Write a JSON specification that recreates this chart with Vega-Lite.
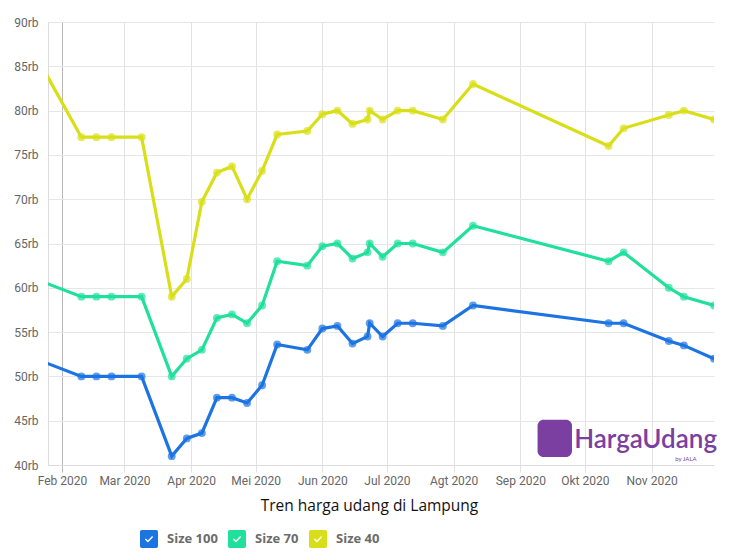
{
  "$schema": "https://vega.github.io/schema/vega-lite/v6.json",
  "autosize": {"type": "none"},
  "width": 666,
  "height": 443,
  "padding": {"left": 48, "top": 22, "right": 25, "bottom": 95},
  "background": "white",
  "config": {"view": {"stroke": null}, "font": "Roboto"},
  "layer": [
    {
      "data": {"values": [
        {"date": "2020-01-13T00:00:00", "size": "Size 100", "price": 52.6},
        {"date": "2020-02-10T00:00:00", "size": "Size 100", "price": 50},
        {"date": "2020-02-17T00:00:00", "size": "Size 100", "price": 50},
        {"date": "2020-02-24T00:00:00", "size": "Size 100", "price": 50},
        {"date": "2020-03-09T00:00:00", "size": "Size 100", "price": 50},
        {"date": "2020-03-23T00:00:00", "size": "Size 100", "price": 41},
        {"date": "2020-03-30T00:00:00", "size": "Size 100", "price": 43},
        {"date": "2020-04-06T00:00:00", "size": "Size 100", "price": 43.6},
        {"date": "2020-04-13T00:00:00", "size": "Size 100", "price": 47.6},
        {"date": "2020-04-20T00:00:00", "size": "Size 100", "price": 47.6},
        {"date": "2020-04-27T00:00:00", "size": "Size 100", "price": 47},
        {"date": "2020-05-04T00:00:00", "size": "Size 100", "price": 49},
        {"date": "2020-05-11T00:00:00", "size": "Size 100", "price": 53.6},
        {"date": "2020-05-25T00:00:00", "size": "Size 100", "price": 53},
        {"date": "2020-06-01T00:00:00", "size": "Size 100", "price": 55.4},
        {"date": "2020-06-08T00:00:00", "size": "Size 100", "price": 55.7},
        {"date": "2020-06-15T00:00:00", "size": "Size 100", "price": 53.7},
        {"date": "2020-06-22T00:00:00", "size": "Size 100", "price": 54.5},
        {"date": "2020-06-23T00:00:00", "size": "Size 100", "price": 56},
        {"date": "2020-06-29T00:00:00", "size": "Size 100", "price": 54.5},
        {"date": "2020-07-06T00:00:00", "size": "Size 100", "price": 56},
        {"date": "2020-07-13T00:00:00", "size": "Size 100", "price": 56},
        {"date": "2020-07-27T00:00:00", "size": "Size 100", "price": 55.7},
        {"date": "2020-08-10T00:00:00", "size": "Size 100", "price": 58},
        {"date": "2020-10-12T00:00:00", "size": "Size 100", "price": 56},
        {"date": "2020-10-19T00:00:00", "size": "Size 100", "price": 56},
        {"date": "2020-11-09T00:00:00", "size": "Size 100", "price": 54},
        {"date": "2020-11-16T00:00:00", "size": "Size 100", "price": 53.5},
        {"date": "2020-11-30T00:00:00", "size": "Size 100", "price": 52},
        {"date": "2020-01-13T00:00:00", "size": "Size 70", "price": 61.6},
        {"date": "2020-02-10T00:00:00", "size": "Size 70", "price": 59},
        {"date": "2020-02-17T00:00:00", "size": "Size 70", "price": 59},
        {"date": "2020-02-24T00:00:00", "size": "Size 70", "price": 59},
        {"date": "2020-03-09T00:00:00", "size": "Size 70", "price": 59},
        {"date": "2020-03-23T00:00:00", "size": "Size 70", "price": 50},
        {"date": "2020-03-30T00:00:00", "size": "Size 70", "price": 52},
        {"date": "2020-04-06T00:00:00", "size": "Size 70", "price": 53},
        {"date": "2020-04-13T00:00:00", "size": "Size 70", "price": 56.6},
        {"date": "2020-04-20T00:00:00", "size": "Size 70", "price": 57},
        {"date": "2020-04-27T00:00:00", "size": "Size 70", "price": 56},
        {"date": "2020-05-04T00:00:00", "size": "Size 70", "price": 58},
        {"date": "2020-05-11T00:00:00", "size": "Size 70", "price": 63},
        {"date": "2020-05-25T00:00:00", "size": "Size 70", "price": 62.5},
        {"date": "2020-06-01T00:00:00", "size": "Size 70", "price": 64.7},
        {"date": "2020-06-08T00:00:00", "size": "Size 70", "price": 65},
        {"date": "2020-06-15T00:00:00", "size": "Size 70", "price": 63.3},
        {"date": "2020-06-22T00:00:00", "size": "Size 70", "price": 64},
        {"date": "2020-06-23T00:00:00", "size": "Size 70", "price": 65},
        {"date": "2020-06-29T00:00:00", "size": "Size 70", "price": 63.5},
        {"date": "2020-07-06T00:00:00", "size": "Size 70", "price": 65},
        {"date": "2020-07-13T00:00:00", "size": "Size 70", "price": 65},
        {"date": "2020-07-27T00:00:00", "size": "Size 70", "price": 64},
        {"date": "2020-08-10T00:00:00", "size": "Size 70", "price": 67},
        {"date": "2020-10-12T00:00:00", "size": "Size 70", "price": 63},
        {"date": "2020-10-19T00:00:00", "size": "Size 70", "price": 64},
        {"date": "2020-11-09T00:00:00", "size": "Size 70", "price": 60},
        {"date": "2020-11-16T00:00:00", "size": "Size 70", "price": 59},
        {"date": "2020-11-30T00:00:00", "size": "Size 70", "price": 58},
        {"date": "2020-01-13T00:00:00", "size": "Size 40", "price": 89.2},
        {"date": "2020-02-10T00:00:00", "size": "Size 40", "price": 77},
        {"date": "2020-02-17T00:00:00", "size": "Size 40", "price": 77},
        {"date": "2020-02-24T00:00:00", "size": "Size 40", "price": 77},
        {"date": "2020-03-09T00:00:00", "size": "Size 40", "price": 77},
        {"date": "2020-03-23T00:00:00", "size": "Size 40", "price": 59},
        {"date": "2020-03-30T00:00:00", "size": "Size 40", "price": 61},
        {"date": "2020-04-06T00:00:00", "size": "Size 40", "price": 69.7},
        {"date": "2020-04-13T00:00:00", "size": "Size 40", "price": 73},
        {"date": "2020-04-20T00:00:00", "size": "Size 40", "price": 73.7},
        {"date": "2020-04-27T00:00:00", "size": "Size 40", "price": 70},
        {"date": "2020-05-04T00:00:00", "size": "Size 40", "price": 73.2},
        {"date": "2020-05-11T00:00:00", "size": "Size 40", "price": 77.3},
        {"date": "2020-05-25T00:00:00", "size": "Size 40", "price": 77.7},
        {"date": "2020-06-01T00:00:00", "size": "Size 40", "price": 79.6},
        {"date": "2020-06-08T00:00:00", "size": "Size 40", "price": 80},
        {"date": "2020-06-15T00:00:00", "size": "Size 40", "price": 78.5},
        {"date": "2020-06-22T00:00:00", "size": "Size 40", "price": 79},
        {"date": "2020-06-23T00:00:00", "size": "Size 40", "price": 80},
        {"date": "2020-06-29T00:00:00", "size": "Size 40", "price": 79},
        {"date": "2020-07-06T00:00:00", "size": "Size 40", "price": 80},
        {"date": "2020-07-13T00:00:00", "size": "Size 40", "price": 80},
        {"date": "2020-07-27T00:00:00", "size": "Size 40", "price": 79},
        {"date": "2020-08-10T00:00:00", "size": "Size 40", "price": 83},
        {"date": "2020-10-12T00:00:00", "size": "Size 40", "price": 76},
        {"date": "2020-10-19T00:00:00", "size": "Size 40", "price": 78},
        {"date": "2020-11-09T00:00:00", "size": "Size 40", "price": 79.5},
        {"date": "2020-11-16T00:00:00", "size": "Size 40", "price": 80},
        {"date": "2020-11-30T00:00:00", "size": "Size 40", "price": 79}
      ]},
      "encoding": {
        "x": {
          "field": "date", "type": "temporal",
          "scale": {"domain": [{"year": 2020, "month": 1, "date": 25, "hours": 12}, {"year": 2020, "month": 11, "date": 30}]},
          "axis": {
            "title": "Tren harga udang di Lampung",
            "titleFont": "Open Sans", "titleFontSize": 15.5, "titleFontWeight": "normal", "titleColor": "#111111",
            "titleX": 321, "titleY": 40, "titleBaseline": "middle", "titleAlign": "center",
            "tickCount": {"interval": "month", "step": 1},
            "labelExpr": "['Jan','Feb','Mar','Apr','Mei','Jun','Jul','Agt','Sep','Okt','Nov','Des'][month(datum.value)] + ' ' + year(datum.value)",
            "labelFont": "Roboto", "labelFontSize": 12, "labelColor": "#666666",
            "labelPadding": 3, "tickSize": 7,
            "tickColor": {"condition": {"test": "month(datum.value) == 1", "value": "#b8b8b8"}, "value": "#e3e3e3"},
            "labelOverlap": false, "labelFlush": false,
            "gridColor": {"condition": {"test": "month(datum.value) == 1", "value": "#b8b8b8"}, "value": "#e3e3e3"},
            "domainColor": "#dcdcdc"
          }
        },
        "y": {
          "field": "price", "type": "quantitative",
          "scale": {"domain": [40, 90]},
          "axis": {
            "title": null,
            "values": [40, 45, 50, 55, 60, 65, 70, 75, 80, 85, 90],
            "labelExpr": "datum.value + 'rb'",
            "labelFont": "Roboto", "labelFontSize": 12, "labelColor": "#666666",
            "tickSize": 0, "labelPadding": 10,
            "gridColor": "#e6e6e6", "domainColor": "#dcdcdc"
          }
        },
        "color": {
          "field": "size", "type": "nominal",
          "scale": {"domain": ["Size 100", "Size 70", "Size 40"], "range": ["#1c74e2", "#20e09c", "#d8df18"]},
          "legend": {
            "orient": "none", "legendX": 92, "legendY": 508, "direction": "horizontal", "title": null,
            "symbolType": "M-0.8,-1H0.8Q1,-1 1,-0.8V0.8Q1,1 0.8,1H-0.8Q-1,1 -1,0.8V-0.8Q-1,-1 -0.8,-1Z M-0.457,0.057L-0.12,0.393L0.458,-0.226L0.342,-0.334L-0.12,0.167L-0.343,-0.057Z",
            "symbolSize": 324, "symbolStrokeWidth": 0, "symbolOpacity": 1,
            "labelFont": "Open Sans", "labelFontWeight": "bold", "labelFontSize": 13, "labelColor": "#6b6b6b",
            "labelOffset": 9, "columnPadding": 10, "padding": 0
          }
        }
      },
      "layer": [
        {"mark": {"type": "line", "strokeWidth": 3.2, "clip": true}},
        {"mark": {"type": "point", "filled": true, "size": 62, "opacity": 0.7, "clip": true}}
      ]
    },
    {
      "data": {"values": [{}]},
      "mark": {"type": "rect", "cornerRadius": 6, "color": "#7b3fa1"},
      "encoding": {
        "x": {"datum": {"year": 2020, "month": 9, "date": 9}, "type": "temporal"},
        "x2": {"datum": {"year": 2020, "month": 9, "date": 25}},
        "y": {"datum": 45.1, "type": "quantitative"},
        "y2": {"datum": 40.9}
      }
    },
    {
      "data": {"values": [{}]},
      "mark": {"type": "text", "text": "HargaUdang", "align": "left", "baseline": "alphabetic", "font": "Lato", "fontWeight": 600, "fontSize": 26, "color": "#7b3fa1"},
      "encoding": {
        "x": {"datum": {"year": 2020, "month": 9, "date": 26}, "type": "temporal"},
        "y": {"datum": 41.9, "type": "quantitative"}
      }
    },
    {
      "data": {"values": [{}]},
      "mark": {"type": "text", "text": "by JALA", "align": "left", "baseline": "top", "font": "Lato", "fontSize": 6, "color": "#7b3fa1"},
      "encoding": {
        "x": {"datum": {"year": 2020, "month": 11, "date": 12}, "type": "temporal"},
        "y": {"datum": 41.0, "type": "quantitative"}
      }
    }
  ]
}
